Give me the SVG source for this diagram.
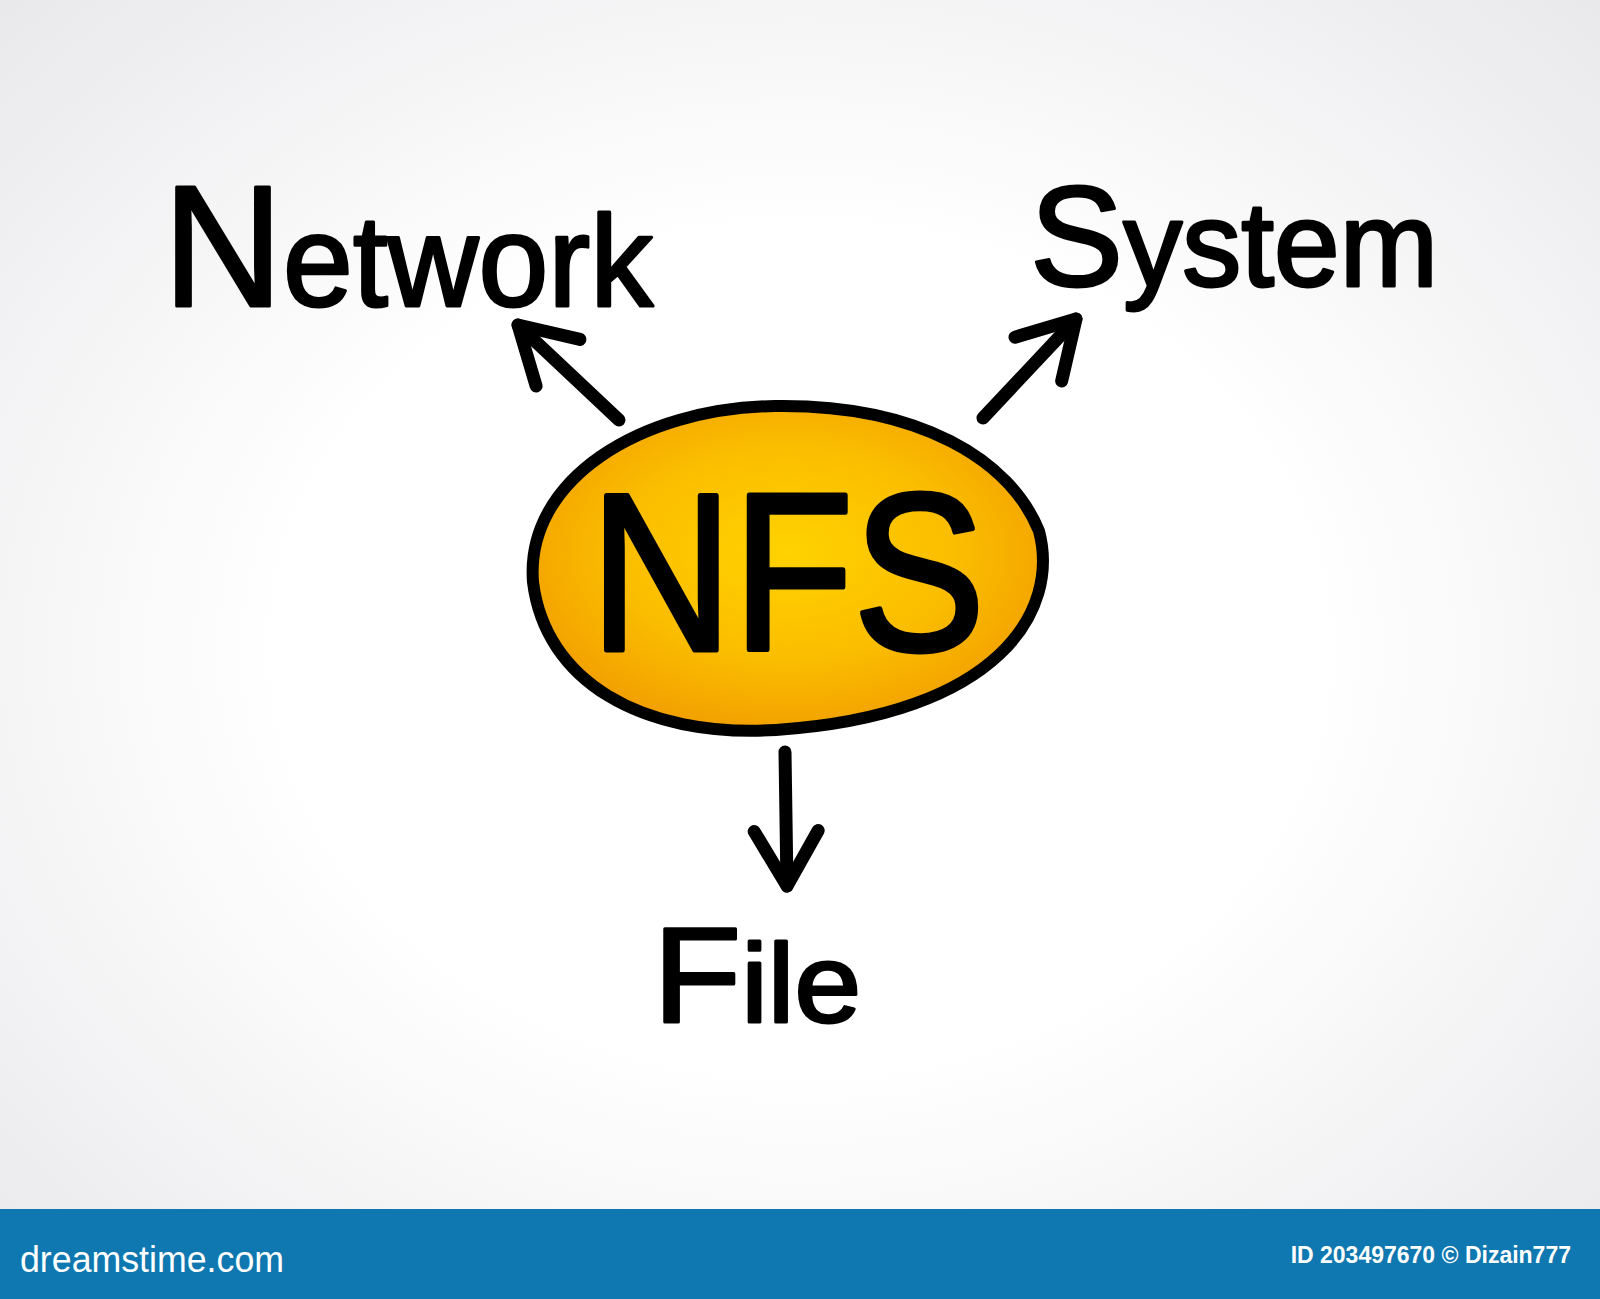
<svg xmlns="http://www.w3.org/2000/svg" width="1600" height="1299" viewBox="0 0 1600 1299">
<defs>
<radialGradient id="bg" cx="50%" cy="50%" r="72%">
<stop offset="0.45" stop-color="#ffffff"/>
<stop offset="1" stop-color="#e8e8eb"/>
</radialGradient>
<radialGradient id="fillg" cx="50%" cy="45%" r="55%">
<stop offset="0" stop-color="#ffd200"/>
<stop offset="0.6" stop-color="#fbbd00"/>
<stop offset="1" stop-color="#f2a100"/>
</radialGradient>
<marker id="head" markerUnits="userSpaceOnUse" markerWidth="100" markerHeight="100" viewBox="-75 -50 100 100" refX="0" refY="0" orient="auto">
<path d="M -55,-32 L 0,0 L -55,32" fill="none" stroke="#000" stroke-width="13" stroke-linecap="round" stroke-linejoin="round"/>
</marker>
<style>
.hand{font-family:"Liberation Sans","DejaVu Sans",sans-serif;font-weight:normal;fill:#000;stroke:#000;stroke-width:3;stroke-linejoin:round;}
.conn{fill:none;stroke:#000;stroke-width:13;stroke-linecap:round;marker-end:url(#head);}
.foot{font-family:"Liberation Sans","DejaVu Sans",sans-serif;fill:#fff;}
</style>
</defs>
<rect x="0" y="0" width="1600" height="1299" fill="url(#bg)"/>
<g id="connectors">
<path class="conn" d="M 619,420 L 518,325"/>
<path class="conn" d="M 983,418 L 1076,319"/>
<path class="conn" d="M 785,752 L 787,886"/>
</g>
<g id="node-nfs">
<path d="M 775,406 C 920,404 1010,460 1039,531 C 1060,610 1000,715 776,730 C 640,738 545,680 533,582 C 525,480 640,408 775,406 Z" fill="url(#fillg)" stroke="#000" stroke-width="12"/>
<text class="hand" x="590" y="650" font-size="225" textLength="395" lengthAdjust="spacingAndGlyphs" style="stroke-width:5">NFS</text>
</g>
<g id="node-network">
<text class="hand" x="163" y="306" font-size="130" textLength="490" lengthAdjust="spacingAndGlyphs"><tspan font-size="172">N</tspan>etwork</text>
</g>
<g id="node-system">
<text class="hand" x="1030" y="286" font-size="120" textLength="408" lengthAdjust="spacingAndGlyphs"><tspan font-size="142">S</tspan>ystem</text>
</g>
<g id="node-file">
<text class="hand" x="653" y="1022" font-size="112" textLength="208" lengthAdjust="spacingAndGlyphs"><tspan font-size="135">F</tspan>ile</text>
</g>
<g id="footer">
<rect x="0" y="1209" width="1600" height="90" fill="#0f78b0"/>
<text class="foot" x="20" y="1272" font-size="36" textLength="264" lengthAdjust="spacingAndGlyphs">dreamstime.com</text>
<text class="foot" x="1571" y="1263" font-size="23" font-weight="bold" text-anchor="end">ID 203497670 © Dizain777</text>
</g>
</svg>
